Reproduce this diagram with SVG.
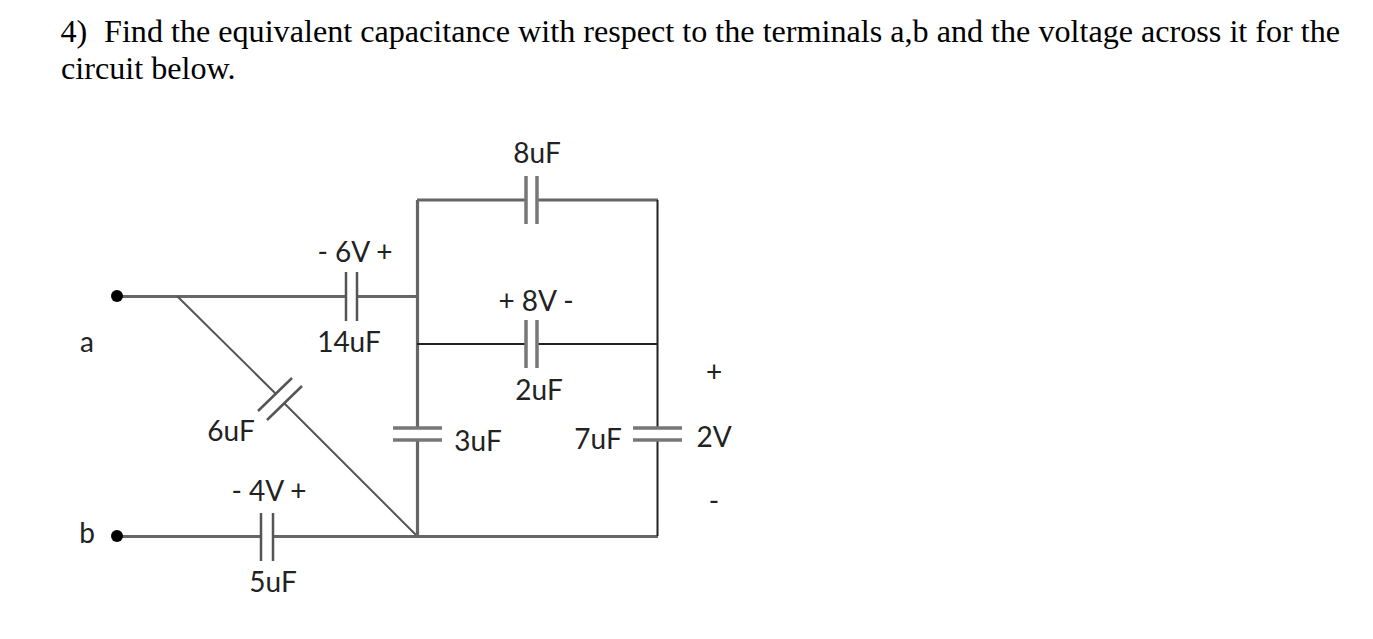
<svg xmlns="http://www.w3.org/2000/svg" width="1373" height="639" viewBox="0 0 1373 639">
<style>
.q{font-family:"Liberation Serif",serif;font-size:32.15px;fill:#000}
.l{font-family:Lato,"Open Sans",sans-serif;font-size:28px;fill:#222;text-anchor:middle}
.w{stroke:#666;stroke-width:3.2;fill:none}
.t{stroke:#222;stroke-width:2;fill:none}
.d{stroke:#555;stroke-width:2;fill:none}
.p{stroke:#555;stroke-width:2.5;fill:none}
.g{stroke:#777;stroke-width:3.5;fill:none}
</style>
<rect width="1373" height="639" fill="#fff"/>
<g id="question">
<text class="q" x="60.500" y="42">4)</text>
<text class="q" x="104" y="42">Find the equivalent capacitance with respect to the terminals a,b and the voltage across it for the</text>
<text class="q" x="61" y="79">circuit below.</text>
</g>
<g id="connectors">
<path class="w" d="M117 296.500H346M357 296.500H417"/>
<path class="d" d="M177 296L276 394M284 403L417 536"/>
<path class="w" d="M117 536.500H261M273 536.500H658"/>
<path class="w" d="M417.500 344V428M417.500 440V536M417.500 200V344"/>
<path class="w" d="M417 200H526M537 200H658"/>
<path class="t" d="M657.500 200V428M657.500 440V536"/>
<path class="t" d="M417 344H526M537 344H658"/>
</g>
<g id="terminal-a"><circle cx="117" cy="296" r="6" fill="#000"/><text class="l" x="87" y="352">a</text></g>
<g id="terminal-b"><circle cx="117" cy="536" r="6" fill="#000"/><text class="l" x="87" y="543">b</text></g>
<g id="c14"><path class="p" d="M346 272V321M357 272V321"/><text class="l" x="355" y="262">- 6V +</text><text class="l" x="349" y="352">14uF</text></g>
<g id="c6"><path class="p" d="M258 411L292 378M267 420L302 386"/><text class="l" x="231" y="441">6uF</text></g>
<g id="c5"><path class="p" d="M261 513V561M273 513V561"/><text class="l" x="269" y="501">- 4V +</text><text class="l" x="273" y="592">5uF</text></g>
<g id="c8"><path class="g" d="M526 176V224M537 176V224"/><text class="l" x="537" y="163">8uF</text></g>
<g id="c2"><path class="g" d="M526 320V368M537 320V368"/><text class="l" x="536" y="311">+ 8V -</text><text class="l" x="539" y="400">2uF</text></g>
<g id="c3"><path class="g" d="M393 428H442M393 440H442"/><text class="l" x="478" y="451">3uF</text></g>
<g id="c7"><path class="g" d="M633 428H682M633 440H682"/><text class="l" x="598" y="449">7uF</text></g>
<g id="v2"><text class="l" x="714" y="382">+</text><text class="l" x="714" y="447">2V</text><text class="l" x="714" y="511">-</text></g>
</svg>
